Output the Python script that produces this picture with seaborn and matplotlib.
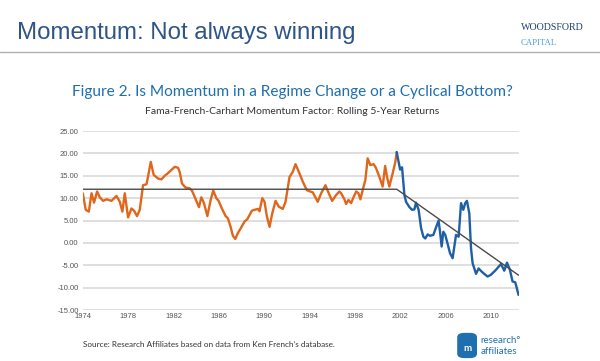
import matplotlib
matplotlib.use("Agg")
import matplotlib.pyplot as plt
from matplotlib.patches import FancyBboxPatch
import seaborn as sns
import pandas as pd

# rolling 5-year returns (year, %)
orange_years = [1974.0, 1974.26, 1974.53, 1974.77, 1974.99, 1975.26, 1975.5, 1975.79, 1976.09, 1976.53,
                1976.97, 1977.26, 1977.49, 1977.7, 1977.99, 1978.29, 1978.52, 1978.78, 1979.02, 1979.31,
                1979.61, 1979.75, 1979.99, 1980.25, 1980.63, 1980.93, 1981.22, 1981.51, 1981.81, 1982.1,
                1982.39, 1982.54, 1982.74, 1983.04, 1983.42, 1983.62, 1983.86, 1984.24, 1984.45, 1984.68,
                1984.98, 1985.27, 1985.5, 1985.77, 1985.97, 1986.26, 1986.59, 1986.79, 1987.03, 1987.23,
                1987.44, 1987.67, 1987.97, 1988.26, 1988.5, 1988.7, 1988.9, 1989.14, 1989.43, 1989.58,
                1989.82, 1990.02, 1990.22, 1990.46, 1990.7, 1990.99, 1991.28, 1991.63, 1991.87, 1992.22,
                1992.51, 1992.75, 1993.04, 1993.39, 1993.74, 1994.04, 1994.27, 1994.71, 1995.01, 1995.39,
                1995.68, 1995.98, 1996.33, 1996.62, 1996.77, 1997.06, 1997.21, 1997.42, 1997.65, 1997.88,
                1998.1, 1998.3, 1998.47, 1998.67, 1998.91, 1999.11, 1999.35, 1999.64, 1999.85, 2000.14,
                2000.43, 2000.65, 2000.82, 2001.02, 2001.31, 2001.55, 2001.67]
orange_vals = [11.1, 7.4, 7.0, 11.1, 9.0, 11.5, 10.2, 9.4, 9.75, 9.4,
               10.5, 9.2, 7.0, 11.1, 5.7, 7.7, 7.2, 6.0, 7.4, 12.9,
               13.1, 14.8, 18.1, 15.2, 14.4, 14.2, 15.0, 15.6, 16.3, 17.0,
               16.8, 15.9, 13.3, 12.4, 12.2, 11.7, 10.3, 8.0, 10.2, 8.9,
               6.0, 9.6, 11.7, 10.0, 9.4, 7.7, 6.0, 5.5, 3.6, 1.6,
               0.9, 2.2, 3.5, 4.8, 5.3, 6.25, 7.2, 7.4, 7.6, 7.1,
               10.0, 9.2, 6.0, 3.6, 6.6, 9.4, 8.1, 7.6, 9.2, 14.7,
               15.9, 17.6, 15.9, 13.7, 11.8, 11.5, 11.3, 9.2, 11.1, 12.9,
               11.1, 9.4, 10.7, 11.5, 11.1, 9.75, 8.7, 9.6, 8.9, 10.3,
               11.5, 11.1, 9.75, 11.8, 14.1, 18.9, 17.4, 17.6, 16.7, 14.8,
               12.6, 17.2, 14.7, 12.6, 15.5, 18.1, 20.3]

blue_years = [2001.67, 2001.97, 2002.14, 2002.35, 2002.49, 2002.79, 2003.02, 2003.23, 2003.37, 2003.6,
              2003.82, 2004.02, 2004.19, 2004.4, 2004.61, 2004.9, 2005.14, 2005.36, 2005.49, 2005.63,
              2005.78, 2005.95, 2006.16, 2006.37, 2006.6, 2006.75, 2006.9, 2007.13, 2007.34, 2007.54,
              2007.71, 2007.86, 2008.07, 2008.22, 2008.36, 2008.66, 2008.89, 2009.24, 2009.68, 2009.98,
              2010.42, 2010.86, 2011.15, 2011.39, 2011.65, 2011.88, 2012.12, 2012.41]
blue_vals = [20.3, 16.4, 16.9, 10.7, 9.2, 8.0, 7.4, 7.5, 9.0, 7.4,
             3.3, 1.4, 1.0, 1.9, 1.6, 1.8, 3.5, 5.0, 2.5, -0.8,
             2.5, 1.8, -0.2, -2.3, -3.4, -0.8, 1.8, 1.4, 8.9, 7.4,
             8.9, 9.4, 6.6, -1.2, -4.5, -6.9, -5.7, -6.6, -7.5, -7.1,
             -6.0, -4.7, -6.2, -4.4, -6.0, -8.6, -8.8, -11.6]

trend_years = [1974.0, 2001.67, 2012.41]
trend_vals = [12.0, 12.0, -7.2]

yticks = [25, 20, 15, 10, 5, 0, -5, -10, -15]
xticks = [1974, 1978, 1982, 1986, 1990, 1994, 1998, 2002, 2006, 2010]

orange_df = pd.DataFrame({"year": orange_years, "ret": orange_vals})
blue_df = pd.DataFrame({"year": blue_years, "ret": blue_vals})
trend_df = pd.DataFrame({"year": trend_years, "ret": trend_vals})

sns.set_style("white")
plt.rcParams["font.family"] = ["Liberation Sans", "DejaVu Sans"]
lato = ["Lato", "DejaVu Sans"]

fig = plt.figure(figsize=(6, 3.61), dpi=100)
ax = fig.add_axes([0.138, 0.141, 0.727, 0.496])

for y in yticks:
    ax.axhline(y, color="#d9d9d9", lw=1.2, zorder=0)

sns.lineplot(data=orange_df, x="year", y="ret", color="#e0661c", lw=1.7, ax=ax)
sns.lineplot(data=blue_df, x="year", y="ret", color="#1f5fa6", lw=1.7, ax=ax)
sns.lineplot(data=trend_df, x="year", y="ret", color="#4a4a4a", lw=1.0, ax=ax)

ax.set_xlim(1974, 2012.45)
ax.set_ylim(-15, 25)
ax.set_yticks(yticks)
ax.set_yticklabels([f"{v:.2f}" for v in yticks])
ax.set_xticks(xticks)
ax.set_xlabel("")
ax.set_ylabel("")
ax.tick_params(axis="both", length=0, labelsize=5.5, labelcolor="#555555")
ax.tick_params(axis="y", pad=3)
ax.tick_params(axis="x", pad=2)
sns.despine(ax=ax, left=True, bottom=True)

# header
fig.text(0.028, 0.908, "Momentum: Not always winning", fontsize=17.3, color="#2e5586",
         ha="left", va="center")
fig.add_artist(plt.Line2D([0, 1], [0.855, 0.855], color="#b0b0b0", lw=1.0))
fig.text(0.868, 0.923, "WOODSFORD", fontsize=7.2, color="#1d3f6e", family="Liberation Serif",
         ha="left", va="center")
fig.text(0.868, 0.88, "CAPITAL", fontsize=6.3, color="#4a9fd6", family="Liberation Serif",
         ha="left", va="center")

fig.text(0.487, 0.745, "Figure 2. Is Momentum in a Regime Change or a Cyclical Bottom?",
         fontsize=11.1, color="#1f6fae", family=lato, ha="center", va="center")
fig.text(0.487, 0.69, "Fama-French-Carhart Momentum Factor: Rolling 5-Year Returns",
         fontsize=7.5, color="#333333", family=lato, ha="center", va="center")

fig.text(0.138, 0.047, "Source: Research Affiliates based on data from Ken French\u2019s database.",
         fontsize=5.9, color="#333333", family=lato, ha="left", va="center")

# research affiliates mark
fig.add_artist(FancyBboxPatch((0.762, 0.008), 0.033, 0.07, boxstyle="round,pad=0,rounding_size=0.012",
                              transform=fig.transFigure, color="#1f6fae", lw=0))
fig.text(0.7785, 0.035, "m", fontsize=7, color="white", fontweight="bold", family=lato,
         ha="center", va="center")
fig.text(0.801, 0.058, "research\u00b0", fontsize=7, color="#1f6fae", family=lato,
         ha="left", va="center")
fig.text(0.801, 0.027, "affiliates", fontsize=7, color="#1f6fae", family=lato,
         ha="left", va="center")

fig.savefig("out.png", dpi=100)
